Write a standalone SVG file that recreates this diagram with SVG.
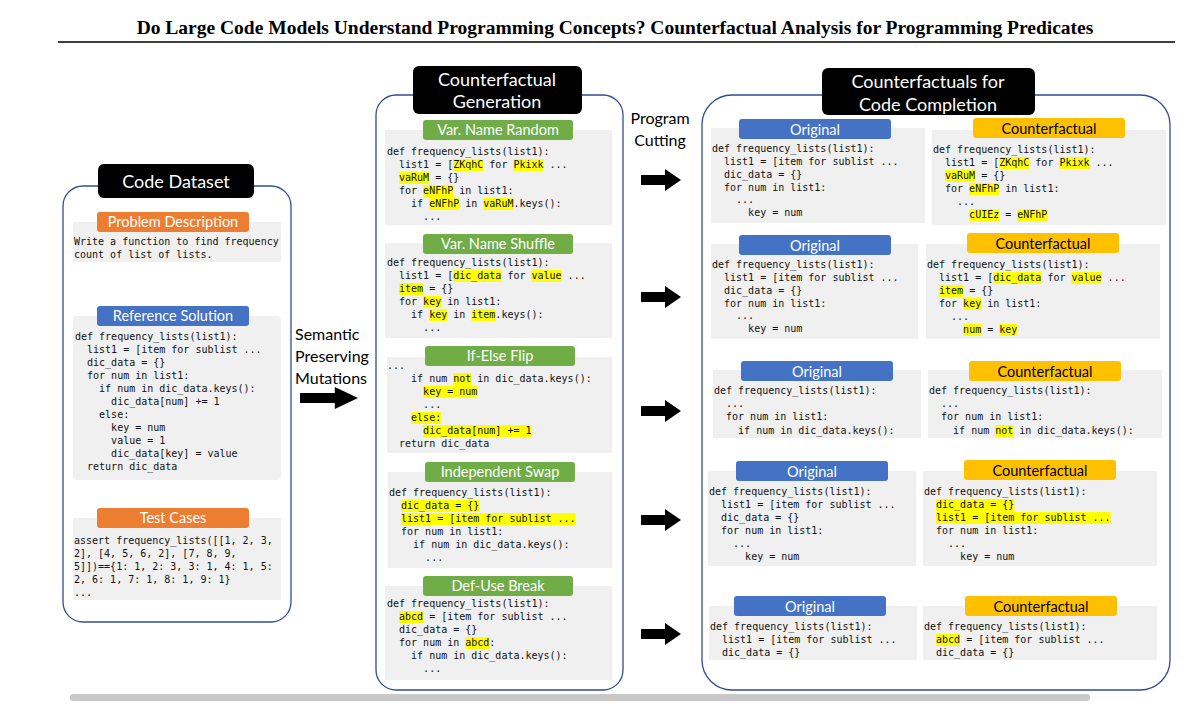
<svg xmlns="http://www.w3.org/2000/svg" width="1200" height="704" viewBox="0 0 1200 704">
<style>
.c{font-family:"DejaVu Sans Mono",monospace;font-size:10px;fill:#111;white-space:pre}
.lb{font-family:Lato,"Open Sans",sans-serif;font-size:14.5px;text-anchor:middle;fill:#fff}
.lk{fill:#000}
.g{fill:#f0f0f0}
.hl{fill:#ffff00}
.box{fill:#fff;stroke:#2f4f8f;stroke-width:1.3}
.tt{fill:#000}
.tw{font-family:Lato,"Open Sans",sans-serif;font-size:18px;fill:#fff;text-anchor:middle}
.side{font-family:Lato,"Open Sans",sans-serif;font-size:16px;fill:#000}
.or{fill:#ed7d31}.bl{fill:#4472c4}.gr{fill:#70ad47}.go{fill:#ffc000}
</style>
<defs>
<polygon id="arr" points="0,-5 24,-5 24,-11 40,0 24,11 24,5 0,5" fill="#000"/>
</defs>
<rect width="1200" height="704" fill="#fff"/>
<text x="615" y="34" font-family="Liberation Serif,serif" font-weight="bold" font-size="19.5" text-anchor="middle">Do Large Code Models Understand Programming Concepts? Counterfactual Analysis for Programming Predicates</text>
<line x1="58" y1="42" x2="1175" y2="42" stroke="#000" stroke-width="1.5"/>

<g id="code-dataset">
<rect class="box" x="63" y="186" width="228" height="436" rx="20"/>
<rect class="tt" x="98" y="164" width="156" height="34" rx="6"/>
<text class="tw" x="176" y="188">Code Dataset</text>
<rect class="g" x="73" y="222" width="208" height="40"/>
<rect class="or" x="97" y="212" width="152" height="20" rx="3"/>
<text class="lb" x="173" y="227">Problem Description</text>
<text class="c" x="74" y="245">Write a function to find frequency</text>
<text class="c" x="74" y="258">count of list of lists.</text>
<rect class="g" x="73" y="316" width="208" height="164" rx="4"/>
<rect class="bl" x="97" y="306" width="152" height="20" rx="3"/>
<text class="lb" x="173" y="321">Reference Solution</text>
<text class="c" x="75" y="340">def frequency_lists(list1):</text>
<text class="c" x="75" y="353">  list1 = [item for sublist ...</text>
<text class="c" x="75" y="366">  dic_data = {}</text>
<text class="c" x="75" y="379">  for num in list1:</text>
<text class="c" x="75" y="392">    if num in dic_data.keys():</text>
<text class="c" x="75" y="405">      dic_data[num] += 1</text>
<text class="c" x="75" y="418">    else:</text>
<text class="c" x="75" y="431">      key = num</text>
<text class="c" x="75" y="444">      value = 1</text>
<text class="c" x="75" y="457">      dic_data[key] = value</text>
<text class="c" x="75" y="470">  return dic_data</text>
<rect class="g" x="73" y="518" width="208" height="82"/>
<rect class="or" x="97" y="508" width="152" height="20" rx="3"/>
<text class="lb" x="173" y="523">Test Cases</text>
<text class="c" x="74" y="544">assert frequency_lists([[1, 2, 3,</text>
<text class="c" x="74" y="557">2], [4, 5, 6, 2], [7, 8, 9,</text>
<text class="c" x="74" y="570">5]])=={1: 1, 2: 3, 3: 1, 4: 1, 5:</text>
<text class="c" x="74" y="583">2, 6: 1, 7: 1, 8: 1, 9: 1}</text>
<text class="c" x="74" y="596">...</text>
</g>

<g id="counterfactual-generation">
<rect class="box" x="376" y="95" width="247" height="595" rx="20"/>
<rect class="tt" x="413" y="66" width="169" height="48" rx="6"/>
<text class="tw" x="497" y="86" font-size="17">Counterfactual</text>
<text class="tw" x="497" y="108" font-size="17">Generation</text>

<rect class="g" x="385" y="130" width="227" height="95"/>
<rect class="gr" x="423" y="120" width="150" height="20" rx="3"/>
<text class="lb" x="498" y="135">Var. Name Random</text>
<rect class="hl" x="453.2" y="159" width="30.1" height="12"/><rect class="hl" x="513.4" y="159" width="30.1" height="12"/>
<rect class="hl" x="399" y="172" width="30.1" height="12"/>
<rect class="hl" x="423.1" y="185" width="30.1" height="12"/>
<rect class="hl" x="429.1" y="198" width="30.1" height="12"/><rect class="hl" x="483.3" y="198" width="30.1" height="12"/>
<text class="c" x="387" y="155">def frequency_lists(list1):</text>
<text class="c" x="387" y="168">  list1 = [ZKqhC for Pkixk ...</text>
<text class="c" x="387" y="181">  vaRuM = {}</text>
<text class="c" x="387" y="194">  for eNFhP in list1:</text>
<text class="c" x="387" y="207">    if eNFhP in vaRuM.keys():</text>
<text class="c" x="387" y="220">      ...</text>

<rect class="g" x="385" y="243" width="227" height="95"/>
<rect class="gr" x="423" y="234" width="150" height="20" rx="3"/>
<text class="lb" x="498" y="249">Var. Name Shuffle</text>
<rect class="hl" x="453.2" y="270" width="48.2" height="12"/><rect class="hl" x="531.5" y="270" width="30.1" height="12"/>
<rect class="hl" x="399" y="283" width="24.1" height="12"/>
<rect class="hl" x="423.1" y="296" width="18.1" height="12"/>
<rect class="hl" x="429.1" y="309" width="18.1" height="12"/><rect class="hl" x="471.3" y="309" width="24.1" height="12"/>
<text class="c" x="387" y="266">def frequency_lists(list1):</text>
<text class="c" x="387" y="279">  list1 = [dic_data for value ...</text>
<text class="c" x="387" y="292">  item = {}</text>
<text class="c" x="387" y="305">  for key in list1:</text>
<text class="c" x="387" y="318">    if key in item.keys():</text>
<text class="c" x="387" y="331">      ...</text>

<rect class="g" x="387" y="357" width="225" height="96"/>
<rect class="gr" x="425" y="346" width="150" height="20" rx="3"/>
<text class="lb" x="500" y="361">If-Else Flip</text>
<rect class="hl" x="453.2" y="373" width="18.1" height="12"/>
<rect class="hl" x="423.1" y="386" width="54.2" height="12"/>
<rect class="hl" x="411.1" y="412" width="30.1" height="12"/>
<rect class="hl" x="423.1" y="425" width="108.4" height="12"/>
<text class="c" x="387" y="369">...</text>
<text class="c" x="387" y="382">    if num not in dic_data.keys():</text>
<text class="c" x="387" y="395">      key = num</text>
<text class="c" x="387" y="408">      ...</text>
<text class="c" x="387" y="421">    else:</text>
<text class="c" x="387" y="434">      dic_data[num] += 1</text>
<text class="c" x="387" y="447">  return dic_data</text>

<rect class="g" x="388" y="472" width="224" height="96"/>
<rect class="gr" x="425" y="462" width="150" height="20" rx="3"/>
<text class="lb" x="500" y="477">Independent Swap</text>
<rect class="hl" x="401" y="500" width="78.3" height="12"/>
<rect class="hl" x="401" y="513" width="174.6" height="12"/>
<text class="c" x="389" y="496">def frequency_lists(list1):</text>
<text class="c" x="389" y="509">  dic_data = {}</text>
<text class="c" x="389" y="522">  list1 = [item for sublist ...</text>
<text class="c" x="389" y="535">  for num in list1:</text>
<text class="c" x="389" y="548">    if num in dic_data.keys():</text>
<text class="c" x="389" y="561">      ...</text>

<rect class="g" x="385" y="586" width="227" height="94"/>
<rect class="gr" x="423" y="576" width="150" height="20" rx="3"/>
<text class="lb" x="498" y="591">Def-Use Break</text>
<rect class="hl" x="399" y="611" width="24.1" height="12"/>
<rect class="hl" x="465.3" y="637" width="24.1" height="12"/>
<text class="c" x="387" y="607">def frequency_lists(list1):</text>
<text class="c" x="387" y="620">  abcd = [item for sublist ...</text>
<text class="c" x="387" y="633">  dic_data = {}</text>
<text class="c" x="387" y="646">  for num in abcd:</text>
<text class="c" x="387" y="659">    if num in dic_data.keys():</text>
<text class="c" x="387" y="672">      ...</text>
</g>

<g id="counterfactuals-completion">
<rect class="box" x="702" y="95" width="468" height="595" rx="30"/>
<rect class="tt" x="822" y="68" width="213" height="47" rx="6"/>
<text class="tw" x="928" y="88" font-size="17.5">Counterfactuals for</text>
<text class="tw" x="928" y="111" font-size="17.5">Code Completion</text>

<!-- row1 -->
<rect class="g" x="711" y="128" width="214" height="95"/>
<rect class="bl" x="739" y="119" width="152" height="20" rx="3"/>
<text class="lb" x="815" y="135">Original</text>
<text class="c" x="712" y="152">def frequency_lists(list1):</text>
<text class="c" x="712" y="165">  list1 = [item for sublist ...</text>
<text class="c" x="712" y="178">  dic_data = {}</text>
<text class="c" x="712" y="191">  for num in list1:</text>
<text class="c" x="712" y="203">    ...</text>
<text class="c" x="712" y="216">      key = num</text>
<rect class="g" x="932" y="130" width="234" height="95"/>
<rect class="go" x="973" y="118" width="152" height="20" rx="3"/>
<text class="lb lk" x="1049" y="134">Counterfactual</text>
<rect class="hl" x="999.2" y="157" width="30.1" height="12"/><rect class="hl" x="1059.4" y="157" width="30.1" height="12"/>
<rect class="hl" x="945" y="170" width="30.1" height="12"/>
<rect class="hl" x="969.1" y="183" width="30.1" height="12"/>
<rect class="hl" x="969.1" y="209" width="30.1" height="12"/><rect class="hl" x="1017.3" y="209" width="30.1" height="12"/>
<text class="c" x="933" y="153">def frequency_lists(list1):</text>
<text class="c" x="933" y="166">  list1 = [ZKqhC for Pkixk ...</text>
<text class="c" x="933" y="179">  vaRuM = {}</text>
<text class="c" x="933" y="192">  for eNFhP in list1:</text>
<text class="c" x="933" y="205">    ...</text>
<text class="c" x="933" y="218">      cUIEz = eNFhP</text>

<!-- row2 -->
<rect class="g" x="711" y="244" width="207" height="95"/>
<rect class="bl" x="739" y="235" width="152" height="20" rx="3"/>
<text class="lb" x="815" y="251">Original</text>
<text class="c" x="712" y="268">def frequency_lists(list1):</text>
<text class="c" x="712" y="281">  list1 = [item for sublist ...</text>
<text class="c" x="712" y="294">  dic_data = {}</text>
<text class="c" x="712" y="307">  for num in list1:</text>
<text class="c" x="712" y="319">    ...</text>
<text class="c" x="712" y="332">      key = num</text>
<rect class="g" x="926" y="244" width="234" height="95"/>
<rect class="go" x="967" y="233" width="152" height="20" rx="3"/>
<text class="lb lk" x="1043" y="249">Counterfactual</text>
<rect class="hl" x="993.2" y="272" width="48.2" height="12"/><rect class="hl" x="1071.5" y="272" width="30.1" height="12"/>
<rect class="hl" x="939" y="285" width="24.1" height="12"/>
<rect class="hl" x="963.1" y="298" width="18.1" height="12"/>
<rect class="hl" x="963.1" y="324" width="18.1" height="12"/><rect class="hl" x="999.2" y="324" width="18.1" height="12"/>
<text class="c" x="927" y="268">def frequency_lists(list1):</text>
<text class="c" x="927" y="281">  list1 = [dic_data for value ...</text>
<text class="c" x="927" y="294">  item = {}</text>
<text class="c" x="927" y="307">  for key in list1:</text>
<text class="c" x="927" y="320">    ...</text>
<text class="c" x="927" y="333">      num = key</text>

<!-- row3 -->
<rect class="g" x="713" y="370" width="208" height="68"/>
<rect class="bl" x="741" y="361" width="152" height="20" rx="3"/>
<text class="lb" x="817" y="377">Original</text>
<text class="c" x="714" y="394">def frequency_lists(list1):</text>
<text class="c" x="714" y="407">  ...</text>
<text class="c" x="714" y="420">  for num in list1:</text>
<text class="c" x="714" y="434">    if num in dic_data.keys():</text>
<rect class="g" x="928" y="370" width="234" height="68"/>
<rect class="go" x="969" y="361" width="152" height="20" rx="3"/>
<text class="lb lk" x="1045" y="377">Counterfactual</text>
<rect class="hl" x="995.2" y="425" width="18.1" height="12"/>
<text class="c" x="929" y="394">def frequency_lists(list1):</text>
<text class="c" x="929" y="407">  ...</text>
<text class="c" x="929" y="420">  for num in list1:</text>
<text class="c" x="929" y="434">    if num not in dic_data.keys():</text>

<!-- row4 -->
<rect class="g" x="708" y="471" width="208" height="95"/>
<rect class="bl" x="736" y="461" width="152" height="20" rx="3"/>
<text class="lb" x="812" y="477">Original</text>
<text class="c" x="709" y="495">def frequency_lists(list1):</text>
<text class="c" x="709" y="508">  list1 = [item for sublist ...</text>
<text class="c" x="709" y="521">  dic_data = {}</text>
<text class="c" x="709" y="534">  for num in list1:</text>
<text class="c" x="709" y="547">    ...</text>
<text class="c" x="709" y="560">      key = num</text>
<rect class="g" x="923" y="471" width="234" height="95"/>
<rect class="go" x="964" y="460" width="152" height="20" rx="3"/>
<text class="lb lk" x="1040" y="476">Counterfactual</text>
<rect class="hl" x="936" y="499" width="78.3" height="12"/>
<rect class="hl" x="936" y="512" width="174.6" height="12"/>
<text class="c" x="924" y="495">def frequency_lists(list1):</text>
<text class="c" x="924" y="508">  dic_data = {}</text>
<text class="c" x="924" y="521">  list1 = [item for sublist ...</text>
<text class="c" x="924" y="534">  for num in list1:</text>
<text class="c" x="924" y="547">    ...</text>
<text class="c" x="924" y="560">      key = num</text>

<!-- row5 -->
<rect class="g" x="709" y="606" width="208" height="54"/>
<rect class="bl" x="734" y="596" width="152" height="20" rx="3"/>
<text class="lb" x="810" y="612">Original</text>
<text class="c" x="710" y="630">def frequency_lists(list1):</text>
<text class="c" x="710" y="643">  list1 = [item for sublist ...</text>
<text class="c" x="710" y="656">  dic_data = {}</text>
<rect class="g" x="923" y="606" width="234" height="54"/>
<rect class="go" x="965" y="596" width="152" height="20" rx="3"/>
<text class="lb lk" x="1041" y="612">Counterfactual</text>
<rect class="hl" x="936" y="634" width="24.1" height="12"/>
<text class="c" x="924" y="630">def frequency_lists(list1):</text>
<text class="c" x="924" y="643">  abcd = [item for sublist ...</text>
<text class="c" x="924" y="656">  dic_data = {}</text>
</g>

<g id="connectors">
<text class="side" x="295" y="340">Semantic</text>
<text class="side" x="295" y="362">Preserving</text>
<text class="side" x="295" y="384">Mutations</text>
<use href="#arr" transform="translate(300,398) scale(1.45,1)"/>
<text class="side" x="660" y="124" text-anchor="middle">Program</text>
<text class="side" x="660" y="146" text-anchor="middle">Cutting</text>
<use href="#arr" x="641" y="180"/>
<use href="#arr" x="641" y="297"/>
<use href="#arr" x="641" y="411"/>
<use href="#arr" x="641" y="520"/>
<use href="#arr" x="641" y="634"/>
</g>
<rect x="70" y="694" width="1020" height="7" rx="3" fill="#c8c8c8"/>
</svg>
